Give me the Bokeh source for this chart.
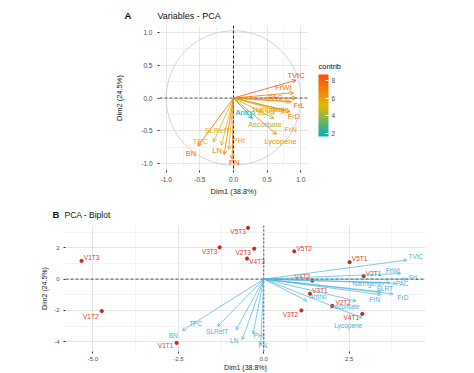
from bokeh.plotting import figure
from bokeh.models import (ColumnDataSource, Arrow, OpenHead, LinearColorMapper, ColorBar,
                          FixedTicker, PrintfTickFormatter, Label, Span)
from bokeh.layouts import column
from bokeh.transform import linear_cmap
from bokeh.embed import file_html
from bokeh.resources import INLINE
from bokeh.core.properties import value

# ---------------- data ----------------
var_names = ["TVtC", "FrWt", "FrL", "PAC", "Naringenin", "SLRT", "FrD", "FrN", "Ascorbate",
             "Antho", "Lycopene", "TPC", "SLRefT", "BN", "LN", "PHt", "PN"]
var_dim1 = [0.93, 0.89, 0.93, 0.86, 0.82, 0.76, 0.84, 0.76, 0.60, 0.28, 0.64,
            -0.30, -0.18, -0.53, -0.14, -0.07, -0.02]
var_dim2 = [0.27, 0.08, 0.00, -0.06, -0.05, -0.18, -0.21, -0.22, -0.31, -0.31, -0.55,
            -0.67, -0.72, -0.73, -0.86, -0.78, -0.93]
var_contrib = [8.7, 7.4, 8.0, 6.9, 6.3, 5.7, 7.0, 5.8, 4.2, 1.6, 6.6, 5.0, 5.1, 7.6, 7.1, 5.7, 8.0]

ind_names = ["V1T1", "V1T2", "V1T3", "V2T1", "V2T2", "V2T3", "V3T1", "V3T2", "V3T3",
             "V4T1", "V4T2", "V4T3", "V5T1", "V5T2", "V5T3"]
ind_dim1 = [-2.55, -4.74, -5.33, 2.92, 2.00, -0.28, 1.35, 1.10, -1.29, 2.88, 1.42, -0.49, 2.51, 0.89, -0.46]
ind_dim2 = [-4.07, -2.04, 1.16, 0.19, -1.71, 1.94, -0.93, -2.00, 2.03, -2.22, -0.10, 1.31, 1.08, 1.77, 3.27]

biplot_var_scale = 4.5

a_ticks = [-1.0, -0.5, 0.0, 0.5, 1.0]
a_minor = [-0.75, -0.25, 0.25, 0.75]
b_xticks = [-5.0, -2.5, 0.0, 2.5]
b_xminor = [-3.75, -1.25, 1.25, 3.75]
b_yticks = [-4, -2, 0, 2]
b_yminor = [-3, -1, 1, 3]
cb_ticks = [2, 4, 6, 8]

# ---------------- label offsets (px, style) ----------------
a_lab_dx = [0, -10, 3, -16, -18, -18, 4, 6, -9, -7, 4, -13, -4, -7, -7, 10, 2]
a_lab_dy = [-5, -5, 7, -4, 8, 3, 5, 17, 6, -6, 7, -1, -15, 7, -4, -9, 3]
b_lab_dx = [9, -8, 7, 6, -22, 4, 10, -6, -11, 11, -14, -22, -19, -9, -8, 6, 2]
b_lab_dy = [-4, -3, -2, 0, 1, -3, 4, 5, 6, -4, 8, -3, 2, 5, 1, 1, 1]
i_lab_dx = [-11, -11, 10, 10, 11, -11, 10, -11, -10, -11, -10, 10, 10, 10, -10]
i_lab_dy = [3, 5, -3, -3, -3, 4, -3, 4, 4, 4, -4, 3, -4, -3, 4]

FONT = "Liberation Sans"


def interp_palette(colors, n=256):
    rgb = [tuple(int(c[i:i + 2], 16) for i in (1, 3, 5)) for c in colors]
    out = []
    for k in range(n):
        t = k / (n - 1) * (len(rgb) - 1)
        i = min(int(t), len(rgb) - 2)
        f = t - i
        r = [round(rgb[i][j] + (rgb[i + 1][j] - rgb[i][j]) * f) for j in range(3)]
        out.append("#%02x%02x%02x" % tuple(r))
    return out


palette = interp_palette(["#00AFBB", "#E7B800", "#FC4E07"])
lo, hi = min(var_contrib), max(var_contrib)
mapper = LinearColorMapper(palette=palette, low=lo, high=hi)
cmap = linear_cmap("contrib", palette, lo, hi)


def style_axes(p, lab_size="6.5px", axis_size="7.5px"):
    p.outline_line_color = None
    p.background_fill_color = "white"
    for ax in (p.xaxis[0], p.yaxis[0]):
        ax.axis_line_color = None
        ax.major_tick_line_color = "#333333"
        ax.major_tick_in = 0
        ax.major_tick_out = 2
        ax.minor_tick_line_color = None
        ax.major_label_text_font = FONT
        ax.major_label_text_font_size = lab_size
        ax.major_label_text_color = "#4D4D4D"
        ax.axis_label_text_font = FONT
        ax.axis_label_text_font_size = axis_size
        ax.axis_label_text_font_style = "normal"
        ax.axis_label_text_color = "#1A1A1A"
    for g in (p.xgrid[0], p.ygrid[0]):
        g.grid_line_color = "#E6E6E6"
        g.minor_grid_line_color = "#F3F3F3"


def head_label(text, x, y, size, bold=False):
    return Label(x=x, y=y, x_units="screen", y_units="screen", text=text,
                 text_font=FONT, text_font_size=size,
                 text_font_style="bold" if bold else "normal",
                 text_baseline="middle", text_align="left", text_color="#111111")


# ---------------- Panel A ----------------
pA = figure(width=474, height=198, x_range=(-1.1, 1.1), y_range=(-1.1, 1.1),
            output_backend="svg", toolbar_location=None, frame_align=False,
            min_border_left=159, min_border_right=167, min_border_top=25, min_border_bottom=25)
style_axes(pA)
pA.xaxis.ticker = FixedTicker(ticks=a_ticks, minor_ticks=a_minor)
pA.yaxis.ticker = FixedTicker(ticks=a_ticks, minor_ticks=a_minor)
pA.xaxis.formatter = PrintfTickFormatter(format="%.1f")
pA.yaxis.formatter = PrintfTickFormatter(format="%.1f")
pA.xaxis.axis_label = "Dim1 (38.8%)"
pA.yaxis.axis_label = "Dim2 (24.5%)"
pA.xaxis.major_label_standoff = 2
pA.xaxis.axis_label_standoff = 2
pA.yaxis.major_label_standoff = 3
pA.yaxis.axis_label_standoff = 14

pA.circle(x=[0], y=[0], radius=1, fill_color=None, line_color="#C5CBD3", line_width=0.8)
pA.add_layout(Span(location=0, dimension="width", line_color="#333333", line_dash="3 2", line_width=0.8))
pA.add_layout(Span(location=0, dimension="height", line_color="#111111", line_dash="3 2", line_width=0.9))

srcA = ColumnDataSource(dict(x0=[0.0] * len(var_dim1), y0=[0.0] * len(var_dim2),
                             x1=var_dim1, y1=var_dim2, contrib=var_contrib, name=var_names,
                             dx=a_lab_dx, dy=a_lab_dy))
pA.add_layout(Arrow(x_start="x0", y_start="y0", x_end="x1", y_end="y1", source=srcA,
                    line_color=cmap, line_width=0.8,
                    end=OpenHead(size=4, line_color=cmap, line_width=0.8)))
pA.text(x="x1", y="y1", text="name", source=srcA, x_offset="dx", y_offset="dy",
        text_align="center", text_baseline="middle", text_color=cmap,
        text_font=value(FONT), text_font_size="7.5px")

cb = ColorBar(color_mapper=mapper, ticker=FixedTicker(ticks=cb_ticks), width=10, height=62,
              major_label_text_font=FONT, major_label_text_font_size="6.5px",
              major_label_text_color="#4D4D4D", label_standoff=3,
              major_tick_line_color="white", major_tick_in=3, major_tick_out=0,
              bar_line_color=None, border_line_color=None, background_fill_alpha=0,
              padding=0, margin=0, location=(159, 34))
pA.add_layout(cb, "center")
pA.add_layout(head_label("contrib", 11, 104, "7.5px"), "right")
pA.add_layout(head_label("Variables - PCA", -2, 10, "9px"), "above")
pA.add_layout(head_label("A", -35, 0, "9.5px", bold=True), "above")

# ---------------- Panel B ----------------
pB = figure(width=474, height=175, x_range=(-5.8, 4.73), y_range=(-4.62, 3.42),
            output_backend="svg", toolbar_location=None, frame_align=False,
            min_border_left=65, min_border_right=49, min_border_top=27, min_border_bottom=21)
style_axes(pB, lab_size="6px", axis_size="7px")
pB.xaxis.ticker = FixedTicker(ticks=b_xticks, minor_ticks=b_xminor)
pB.yaxis.ticker = FixedTicker(ticks=b_yticks, minor_ticks=b_yminor)
pB.xaxis.formatter = PrintfTickFormatter(format="%.1f")
pB.yaxis.formatter = PrintfTickFormatter(format="%d")
pB.xaxis.axis_label = "Dim1 (38.8%)"
pB.yaxis.axis_label = "Dim2 (24.5%)"
pB.xaxis.major_label_standoff = 1
pB.xaxis.axis_label_standoff = 0
pB.yaxis.major_label_standoff = 2
pB.yaxis.axis_label_standoff = 3

pB.add_layout(Span(location=0, dimension="width", line_color="#222222", line_dash="3 2", line_width=0.8))
pB.add_layout(Span(location=0, dimension="height", line_color="#222222", line_dash="2 2", line_width=0.8))

VAR_COL = "#4DB1DE"
IND_COL = "#D9412F"
srcB = ColumnDataSource(dict(x0=[0.0] * len(var_dim1), y0=[0.0] * len(var_dim2),
                             x1=[v * biplot_var_scale for v in var_dim1],
                             y1=[v * biplot_var_scale for v in var_dim2],
                             name=var_names, dx=b_lab_dx, dy=b_lab_dy))
pB.add_layout(Arrow(x_start="x0", y_start="y0", x_end="x1", y_end="y1", source=srcB,
                    line_color=VAR_COL, line_width=0.7,
                    end=OpenHead(size=3.5, line_color=VAR_COL, line_width=0.7)))
pB.text(x="x1", y="y1", text="name", source=srcB, x_offset="dx", y_offset="dy",
        text_align="center", text_baseline="middle", text_color=VAR_COL,
        text_font=value(FONT), text_font_size="6.5px")

srcI = ColumnDataSource(dict(x=ind_dim1, y=ind_dim2, name=ind_names, dx=i_lab_dx, dy=i_lab_dy))
pB.scatter(x="x", y="y", source=srcI, size=3.2, color="#C8281E")
pB.text(x="x", y="y", text="name", source=srcI, x_offset="dx", y_offset="dy",
        text_align="center", text_baseline="middle", text_color=IND_COL,
        text_font=value(FONT), text_font_size="6.5px")
pB.add_layout(head_label("PCA - Biplot", -1, 11, "8.5px"), "above")
pB.add_layout(head_label("B", -13, 1, "9.5px", bold=True), "above")

layout = column(pA, pB, spacing=0)
open("out.html", "w").write(file_html(layout, INLINE))
